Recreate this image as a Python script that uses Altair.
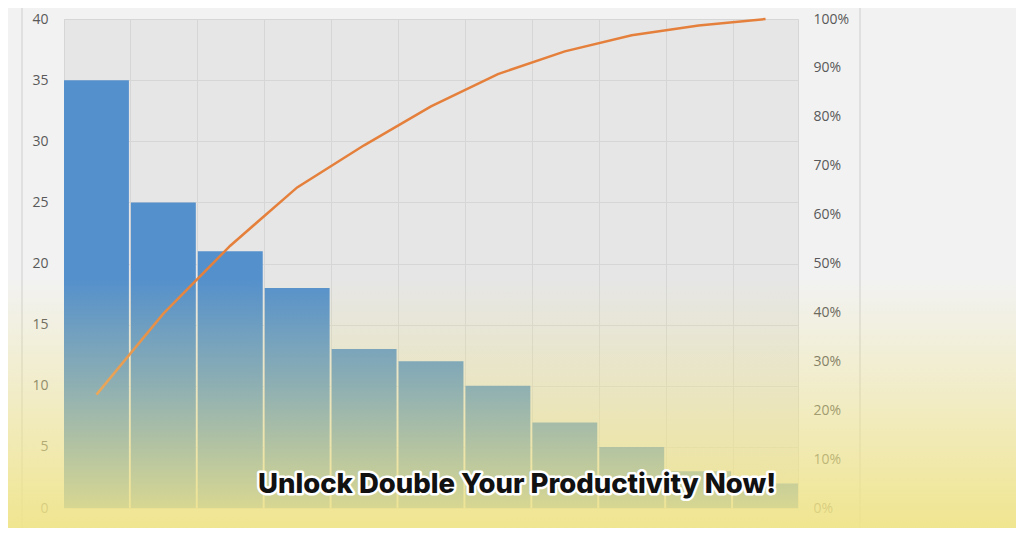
import altair as alt
import pandas as pd

# ---- data ----
categories = ["C1", "C2", "C3", "C4", "C5", "C6", "C7", "C8", "C9", "C10", "C11"]
counts = [35, 25, 21, 18, 13, 12, 10, 7, 5, 3, 2]
left_ticks = [0, 5, 10, 15, 20, 25, 30, 35, 40]
right_ticks = [0, 0.1, 0.2, 0.3, 0.4, 0.5, 0.6, 0.7, 0.8, 0.9, 1.0]
headline = "Unlock Double Your Productivity Now!"

df = pd.DataFrame({"cat": categories, "count": counts})
df["cum"] = df["count"].cumsum() / df["count"].sum()

# ---- layout ----
W, H = 734, 489
PAD_L, PAD_T = 56, 11
TOTAL_W, TOTAL_H = 1008, 520
PAD_R = TOTAL_W - PAD_L - W
PAD_B = TOTAL_H - PAD_T - H

GRID = "#d6d6d6"
LABEL = "#595959"

base = alt.Chart(df)

xenc = alt.X(
    "cat:N",
    sort=None,
    scale=alt.Scale(paddingInner=0.03, paddingOuter=0),
    axis=alt.Axis(title=None, labels=False, ticks=False, domain=False,
                  grid=True, bandPosition=0, gridColor=GRID),
)

bars = base.mark_bar(color="#5490cc").encode(
    x=xenc,
    y=alt.Y(
        "count:Q",
        scale=alt.Scale(domain=[0, 40], nice=False),
        axis=alt.Axis(title=None, orient="left", values=left_ticks,
                      domain=False, ticks=False, labelPadding=16,
                      gridColor=GRID, labelColor=LABEL, labelFontSize=14,
                      labelFont="Open Sans"),
    ),
)

line = base.mark_line(color="#e5803c", strokeWidth=2.5).encode(
    x=alt.X("cat:N", sort=None),
    y=alt.Y(
        "cum:Q",
        scale=alt.Scale(domain=[0, 1], nice=False),
        axis=alt.Axis(title=None, orient="right", values=right_ticks,
                      format=".0%", grid=False, domain=False, ticks=False,
                      labelPadding=15, labelAlign="left", labelColor=LABEL,
                      labelFontSize=14, labelFont="Open Sans"),
    ),
)

one = alt.Chart(pd.DataFrame({"k": [0]}))

frame = one.mark_rule(color="#dadada", strokeWidth=1.5).encode(
    x=alt.value(-42), y=alt.value(-PAD_T), y2=alt.value(TOTAL_H - PAD_T)
)
frame2 = one.mark_rule(color="#dadada", strokeWidth=1.5).encode(
    x=alt.value(796), y=alt.value(-PAD_T), y2=alt.value(TOTAL_H - PAD_T)
)

overlay = one.mark_rect(
    fill={
        "gradient": "linear",
        "x1": 0, "y1": 0, "x2": 0, "y2": 1,
        "stops": [
            {"offset": 0.0, "color": "rgba(240,228,135,0)"},
            {"offset": 0.52, "color": "rgba(240,228,135,0)"},
            {"offset": 0.72, "color": "rgba(240,228,135,0.36)"},
            {"offset": 0.95, "color": "rgba(240,228,135,0.82)"},
            {"offset": 1.0, "color": "rgba(240,228,135,0.92)"},
        ],
    }
).encode(
    x=alt.value(-PAD_L), x2=alt.value(TOTAL_W - PAD_L),
    y=alt.value(-PAD_T), y2=alt.value(TOTAL_H - PAD_T),
)

title_outline = one.mark_text(
    text=headline, font="Inter", fontSize=27.5, fontWeight=800,
    fill="white", stroke="white", strokeWidth=5, strokeJoin="round",
    align="center", baseline="alphabetic",
).encode(x=alt.value(453), y=alt.value(485 - PAD_T))

title_text = one.mark_text(
    text=headline, font="Inter", fontSize=27.5, fontWeight=800,
    color="#111111", align="center", baseline="alphabetic",
).encode(x=alt.value(453), y=alt.value(485 - PAD_T))

main = alt.layer(bars, line).resolve_scale(y="independent")

chart = alt.layer(frame, frame2, main, overlay, title_outline, title_text).properties(
    width=W, height=H,
    autosize=alt.AutoSizeParams(type="none"),
    padding={"left": PAD_L, "top": PAD_T, "right": PAD_R, "bottom": PAD_B},
).configure(background="#f2f2f2").configure_view(
    fill="#e6e6e6", stroke=GRID, strokeWidth=1
)

chart.save("out.html", embed_options={"renderer": "svg", "actions": False})
